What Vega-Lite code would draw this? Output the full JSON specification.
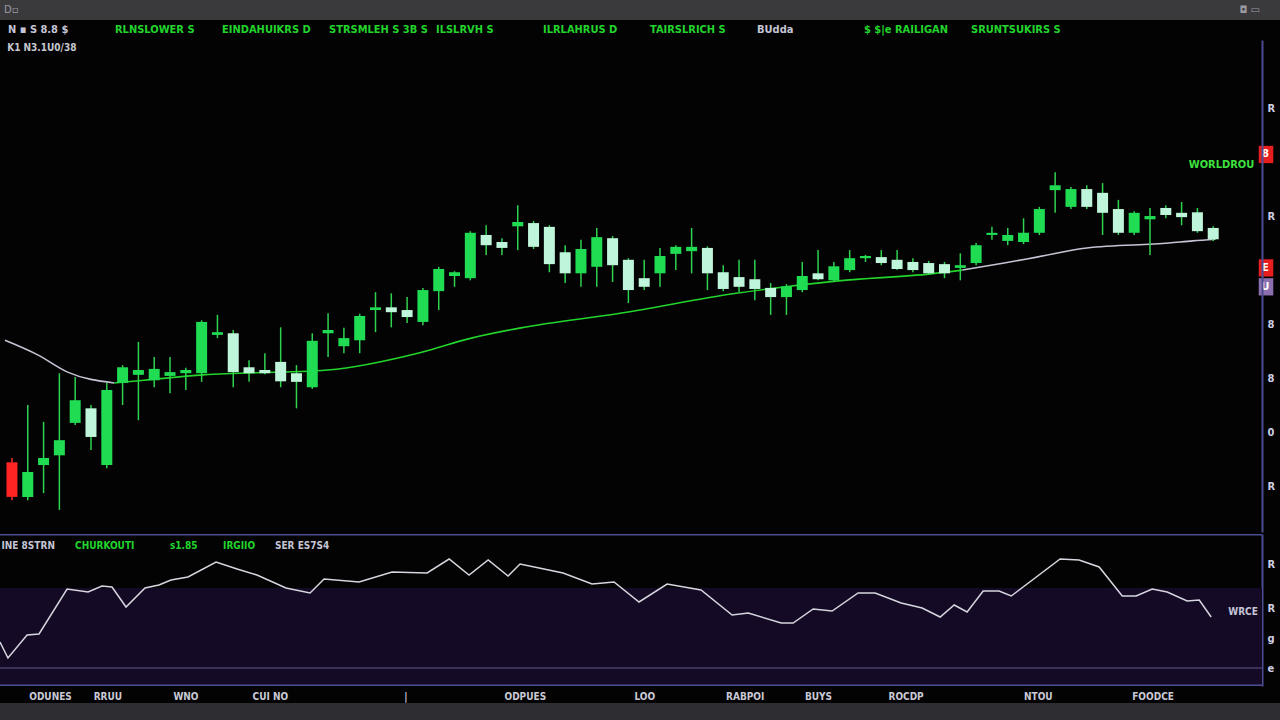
{
  "$schema": "https://vega.github.io/schema/vega-lite/v6.json",
  "background": "#030304",
  "padding": 0,
  "spacing": 2,
  "config": {"view": {"stroke": null}, "axis": {"grid": false, "ticks": false}, "font": "DejaVu Sans"},
  "datasets": {
    "candles": [
      {"t":1,"o":104.4,"h":105.2,"l":97.4,"c":98.0,"dir":"sell"},
      {"t":2,"o":98.0,"h":115.0,"l":97.4,"c":102.6,"dir":"up"},
      {"t":3,"o":103.9,"h":111.9,"l":98.7,"c":105.2,"dir":"up"},
      {"t":4,"o":105.7,"h":120.9,"l":95.6,"c":108.5,"dir":"up"},
      {"t":5,"o":111.7,"h":120.2,"l":111.3,"c":115.9,"dir":"up"},
      {"t":6,"o":114.4,"h":115.0,"l":106.7,"c":109.1,"dir":"down"},
      {"t":7,"o":103.9,"h":119.1,"l":103.3,"c":117.8,"dir":"up"},
      {"t":8,"o":119.1,"h":122.4,"l":115.0,"c":122.0,"dir":"up"},
      {"t":9,"o":120.6,"h":126.7,"l":112.2,"c":121.5,"dir":"up"},
      {"t":10,"o":119.6,"h":123.9,"l":118.3,"c":121.7,"dir":"up"},
      {"t":11,"o":120.4,"h":123.9,"l":117.2,"c":121.1,"dir":"up"},
      {"t":12,"o":120.9,"h":121.9,"l":117.8,"c":121.5,"dir":"up"},
      {"t":13,"o":120.9,"h":130.7,"l":119.3,"c":130.4,"dir":"up"},
      {"t":14,"o":128.0,"h":131.7,"l":127.4,"c":128.5,"dir":"up"},
      {"t":15,"o":128.3,"h":128.9,"l":118.3,"c":121.1,"dir":"down"},
      {"t":16,"o":122.0,"h":123.3,"l":119.3,"c":120.9,"dir":"down"},
      {"t":17,"o":121.5,"h":124.6,"l":120.7,"c":120.9,"dir":"down"},
      {"t":18,"o":123.0,"h":129.4,"l":118.3,"c":119.4,"dir":"down"},
      {"t":19,"o":120.9,"h":122.4,"l":114.4,"c":119.3,"dir":"down"},
      {"t":20,"o":118.3,"h":128.3,"l":118.0,"c":126.9,"dir":"up"},
      {"t":21,"o":128.3,"h":132.0,"l":123.9,"c":128.9,"dir":"up"},
      {"t":22,"o":125.9,"h":129.3,"l":124.6,"c":127.4,"dir":"up"},
      {"t":23,"o":127.0,"h":131.9,"l":124.6,"c":131.5,"dir":"up"},
      {"t":24,"o":132.6,"h":135.9,"l":128.5,"c":133.1,"dir":"up"},
      {"t":25,"o":133.1,"h":135.7,"l":129.4,"c":132.2,"dir":"down"},
      {"t":26,"o":132.6,"h":135.0,"l":130.2,"c":131.3,"dir":"down"},
      {"t":27,"o":130.4,"h":136.7,"l":129.8,"c":136.3,"dir":"up"},
      {"t":28,"o":136.1,"h":140.6,"l":132.6,"c":140.2,"dir":"up"},
      {"t":29,"o":138.9,"h":139.8,"l":136.9,"c":139.6,"dir":"up"},
      {"t":30,"o":138.5,"h":147.2,"l":138.1,"c":146.9,"dir":"up"},
      {"t":31,"o":146.5,"h":148.3,"l":142.8,"c":144.6,"dir":"down"},
      {"t":32,"o":145.2,"h":145.9,"l":142.8,"c":144.1,"dir":"down"},
      {"t":33,"o":148.1,"h":152.0,"l":143.7,"c":148.9,"dir":"up"},
      {"t":34,"o":148.7,"h":149.1,"l":143.9,"c":144.3,"dir":"down"},
      {"t":35,"o":148.0,"h":148.3,"l":139.6,"c":141.1,"dir":"down"},
      {"t":36,"o":143.3,"h":144.6,"l":137.6,"c":139.4,"dir":"down"},
      {"t":37,"o":139.4,"h":145.6,"l":136.9,"c":143.9,"dir":"up"},
      {"t":38,"o":140.6,"h":147.8,"l":136.9,"c":146.1,"dir":"up"},
      {"t":39,"o":145.9,"h":146.3,"l":137.8,"c":140.9,"dir":"down"},
      {"t":40,"o":141.9,"h":142.2,"l":133.9,"c":136.3,"dir":"down"},
      {"t":41,"o":138.5,"h":141.9,"l":136.3,"c":136.9,"dir":"down"},
      {"t":42,"o":139.4,"h":144.1,"l":136.9,"c":142.6,"dir":"up"},
      {"t":43,"o":143.0,"h":144.6,"l":140.0,"c":144.3,"dir":"up"},
      {"t":44,"o":143.5,"h":147.8,"l":139.4,"c":144.3,"dir":"up"},
      {"t":45,"o":144.1,"h":144.4,"l":136.3,"c":139.4,"dir":"down"},
      {"t":46,"o":139.6,"h":140.9,"l":136.1,"c":136.5,"dir":"down"},
      {"t":47,"o":138.7,"h":141.9,"l":135.9,"c":136.9,"dir":"down"},
      {"t":48,"o":138.3,"h":141.9,"l":134.4,"c":136.5,"dir":"down"},
      {"t":49,"o":136.7,"h":137.6,"l":131.7,"c":135.0,"dir":"down"},
      {"t":50,"o":135.0,"h":137.4,"l":131.7,"c":137.0,"dir":"up"},
      {"t":51,"o":136.3,"h":141.5,"l":135.9,"c":138.9,"dir":"up"},
      {"t":52,"o":139.4,"h":143.7,"l":138.1,"c":138.3,"dir":"down"},
      {"t":53,"o":138.1,"h":141.5,"l":137.8,"c":140.7,"dir":"up"},
      {"t":54,"o":140.0,"h":143.7,"l":139.6,"c":142.2,"dir":"up"},
      {"t":55,"o":142.2,"h":142.8,"l":141.5,"c":142.6,"dir":"up"},
      {"t":56,"o":142.4,"h":143.7,"l":140.9,"c":141.3,"dir":"down"},
      {"t":57,"o":141.9,"h":143.7,"l":140.0,"c":140.2,"dir":"down"},
      {"t":58,"o":141.5,"h":142.2,"l":139.6,"c":140.0,"dir":"down"},
      {"t":59,"o":141.3,"h":141.7,"l":139.1,"c":139.4,"dir":"down"},
      {"t":60,"o":141.1,"h":141.5,"l":138.5,"c":139.4,"dir":"down"},
      {"t":61,"o":140.4,"h":143.1,"l":138.1,"c":140.9,"dir":"up"},
      {"t":62,"o":141.3,"h":145.0,"l":140.9,"c":144.6,"dir":"up"},
      {"t":63,"o":146.5,"h":148.0,"l":145.6,"c":146.9,"dir":"up"},
      {"t":64,"o":145.4,"h":147.8,"l":144.6,"c":146.5,"dir":"up"},
      {"t":65,"o":145.2,"h":149.6,"l":144.8,"c":146.9,"dir":"up"},
      {"t":66,"o":146.9,"h":151.7,"l":146.5,"c":151.3,"dir":"up"},
      {"t":67,"o":154.8,"h":158.1,"l":150.6,"c":155.7,"dir":"up"},
      {"t":68,"o":151.7,"h":155.4,"l":151.3,"c":155.0,"dir":"up"},
      {"t":69,"o":155.0,"h":155.7,"l":151.3,"c":151.7,"dir":"down"},
      {"t":70,"o":154.3,"h":156.1,"l":146.5,"c":150.6,"dir":"down"},
      {"t":71,"o":151.3,"h":153.0,"l":146.5,"c":146.9,"dir":"down"},
      {"t":72,"o":146.9,"h":150.9,"l":146.5,"c":150.6,"dir":"up"},
      {"t":73,"o":149.4,"h":151.5,"l":142.8,"c":150.0,"dir":"up"},
      {"t":74,"o":151.5,"h":152.0,"l":149.6,"c":150.2,"dir":"down"},
      {"t":75,"o":150.6,"h":152.6,"l":148.3,"c":149.8,"dir":"down"},
      {"t":76,"o":150.7,"h":151.5,"l":146.9,"c":147.2,"dir":"down"},
      {"t":77,"o":147.8,"h":148.1,"l":145.4,"c":145.7,"dir":"down"}
    ],
    "ma": [
      {"t":0.56,"p":127.0,"seg":"a"},{"t":2.63,"p":124.3,"seg":"a"},{"t":4.52,"p":121.1,"seg":"a"},{"t":7.47,"p":119.1,"seg":"a"},
      {"t":7.47,"p":119.1,"seg":"b"},{"t":9.35,"p":119.6,"seg":"b"},{"t":13.11,"p":120.6,"seg":"b"},{"t":20.96,"p":121.5,"seg":"b"},
      {"t":26.93,"p":124.8,"seg":"b"},{"t":30.06,"p":127.4,"seg":"b"},{"t":33.2,"p":129.3,"seg":"b"},{"t":39.48,"p":132.0,"seg":"b"},
      {"t":46.83,"p":135.7,"seg":"b"},{"t":53.29,"p":138.0,"seg":"b"},{"t":59.13,"p":139.3,"seg":"b"},{"t":61.14,"p":140.0,"seg":"b"},
      {"t":61.14,"p":140.0,"seg":"c"},{"t":63.78,"p":141.3,"seg":"c"},{"t":65.84,"p":142.4,"seg":"c"},{"t":69.0,"p":144.1,"seg":"c"},
      {"t":74.2,"p":145.0,"seg":"c"},{"t":75.7,"p":145.4,"seg":"c"},{"t":77.14,"p":145.7,"seg":"c"}
    ],
    "osc": [
      {"t":0.56,"v":43},{"t":1.06,"v":35},{"t":2.26,"v":46.5},{"t":3.01,"v":47},{"t":4.77,"v":69.5},{"t":6.09,"v":68},
      {"t":6.96,"v":71},{"t":7.59,"v":70.5},{"t":8.47,"v":60.5},{"t":9.66,"v":70},{"t":10.54,"v":71.5},{"t":11.29,"v":74},
      {"t":12.36,"v":75.5},{"t":14.12,"v":83},{"t":15.44,"v":79.5},{"t":16.69,"v":76.5},{"t":18.51,"v":70},{"t":20.02,"v":67.5},
      {"t":20.9,"v":74.5},{"t":23.1,"v":73},{"t":25.17,"v":78},{"t":27.37,"v":77.5},{"t":28.75,"v":84.5},{"t":30.0,"v":76.5},
      {"t":31.2,"v":84},{"t":32.45,"v":76},{"t":33.2,"v":82},{"t":34.4,"v":80},{"t":35.9,"v":77.5},{"t":37.72,"v":72},
      {"t":39.1,"v":73},{"t":40.67,"v":63},{"t":42.43,"v":72},{"t":44.56,"v":69},{"t":46.51,"v":56.5},{"t":47.52,"v":57.5},
      {"t":49.59,"v":52.5},{"t":50.34,"v":52.5},{"t":51.6,"v":59.5},{"t":52.79,"v":58.5},{"t":54.42,"v":67.5},{"t":55.49,"v":67.5},
      {"t":57.12,"v":62.5},{"t":58.44,"v":60},{"t":59.57,"v":55.5},{"t":60.45,"v":61.5},{"t":61.26,"v":58},{"t":62.27,"v":68.5},
      {"t":63.27,"v":68.5},{"t":64.03,"v":66},{"t":67.1,"v":84.5},{"t":68.29,"v":84},{"t":69.55,"v":80.5},{"t":71.0,"v":66},
      {"t":71.87,"v":66},{"t":72.88,"v":69.5},{"t":73.82,"v":68},{"t":75.07,"v":63.5},{"t":75.83,"v":64},{"t":76.58,"v":55.5}
    ],
    "tags": [
      {"p":161.4,"label":"8","kind":"red"},
      {"p":140.4,"label":"E","kind":"red"},
      {"p":136.9,"label":"U","kind":"purple"}
    ],
    "notes": [
      {"t":0.7,"p":181.2,"label":"K1  N3.1U0/38","align":"left","tone":"w"},
      {"t":79.6,"p":159.4,"label":"WORLDROU","align":"right","tone":"g"}
    ],
    "oscnotes": [
      {"t":0.65,"v":91,"label":"INE  8STRN","tone":"w"},
      {"t":5.27,"v":91,"label":"CHURKOUTI","tone":"g"},
      {"t":11.23,"v":91,"label":"s1.85","tone":"g"},
      {"t":14.56,"v":91,"label":"IRGIIO","tone":"r"},
      {"t":17.82,"v":91,"label":"SER ES7S4","tone":"w"},
      {"t":77.65,"v":58,"label":"WRCE","tone":"w"}
    ],
    "header": [
      {"seg":"s0","label":"N  ▪  S  8.8  $","tone":"w"},
      {"seg":"s1","label":"RLNSLOWER  S","tone":"g"},
      {"seg":"s2","label":"EINDAHUIKRS  D","tone":"g"},
      {"seg":"s3","label":"STRSMLEH S 3B  S","tone":"g"},
      {"seg":"s4","label":"ILSLRVH  S","tone":"g"},
      {"seg":"s5","label":"ILRLAHRUS  D","tone":"g"},
      {"seg":"s6","label":"TAIRSLRICH  S","tone":"g"},
      {"seg":"s7","label":"BUdda","tone":"w"},
      {"seg":"s8","label":"$  $|e  RAILIGAN","tone":"g"},
      {"seg":"s9","label":"SRUNTSUKIRS  S","tone":"g"}
    ],
    "borders": [{"v": 97}, {"v": 21}]
  },
  "vconcat": [
    {
      "width": 1280, "height": 20,
      "view": {"fill": "#3a3a3d"},
      "data": {"values": [{"slot":"left","label":"D▫"},{"slot":"right","label":"◘ ▭"}]},
      "layer": [
        {
          "transform": [{"filter": "datum.slot === 'left'"}],
          "mark": {"type":"text","align":"left","dx":4,"fontSize":10,"color":"#9a9aa2"},
          "encoding": {"x": {"field":"slot","type":"nominal","scale":{"type":"point","domain":["left","right"],"padding":0},"axis":null},"text":{"field":"label"}}
        },
        {
          "transform": [{"filter": "datum.slot === 'right'"}],
          "mark": {"type":"text","align":"right","dx":-20,"fontSize":10,"color":"#9a9aa2"},
          "encoding": {"x": {"field":"slot","type":"nominal","scale":{"type":"point","domain":["left","right"],"padding":0},"axis":null},"text":{"field":"label"}}
        }
      ]
    },
    {
      "width": 1070, "height": 16,
      "data": {"name": "header"},
      "mark": {"type":"text","align":"left","dx":8,"fontSize":11,"fontWeight":"bold","font":"DejaVu Sans Condensed"},
      "encoding": {
        "x": {"field":"seg","type":"ordinal","bandPosition":0,"scale":{"type":"band","paddingInner":0,"paddingOuter":0},"axis":null},
        "text": {"field":"label"},
        "color": {"field":"tone","type":"nominal","scale":{"domain":["w","g"],"range":["#c4c4d4","#22d42c"]},"legend":null}
      }
    },
    {
      "width": 1262, "height": 492,
      "layer": [
        {
          "data": {"name": "ma"},
          "mark": {"type":"line","strokeWidth":1.6,"interpolate":"monotone","clip":true},
          "encoding": {
            "x": {"field":"t","type":"quantitative","scale":{"domain":[0.56,79.77],"nice":false,"zero":false},"axis":null},
            "y": {"field":"p","type":"quantitative","scale":{"domain":[91.5,182.6],"nice":false,"zero":false},
                  "axis":{"orient":"right","title":null,"values":[100,110,120,130,150,170],
                          "labelExpr":"['R','0','8','8','R','R'][indexof([100,110,120,130,150,170], datum.value)]",
                          "labelColor":"#cfd0e6","labelFontSize":11,"labelFont":"DejaVu Sans Condensed","labelFontWeight":"bold",
                          "labelPadding":5,"domainColor":"#4c4c90","domainWidth":2,"zindex":1}},
            "color": {"field":"seg","type":"nominal","scale":{"domain":["a","b","c"],"range":["#b8b8b8","#2fae2f","#d0d0d0"]},"legend":null},
            "detail": {"field":"seg"}
          }
        },
        {
          "data": {"name": "candles"},
          "mark": {"type":"rule","strokeWidth":1.5,"clip":true},
          "encoding": {
            "x": {"field":"t","type":"quantitative"},
            "y": {"field":"l","type":"quantitative"},
            "y2": {"field":"h"},
            "color": {"condition": {"test":"datum.dir === 'sell'","value":"#ff2a2a"},"value":"#2fd24e"}
          }
        },
        {
          "data": {"name": "candles"},
          "mark": {"type":"bar","width":11},
          "encoding": {
            "x": {"field":"t","type":"quantitative"},
            "y": {"field":"o","type":"quantitative"},
            "y2": {"field":"c"},
            "color": {"condition": [{"test":"datum.dir === 'sell'","value":"#ff2424"},{"test":"datum.dir === 'up'","value":"#20dc52"}],"value":"#bff5da"}
          }
        },
        {
          "data": {"name": "notes"},
          "transform": [{"filter": "datum.align === 'left'"}],
          "mark": {"type":"text","align":"left","fontSize":10,"font":"DejaVu Sans Condensed","fontWeight":"bold","color":"#c8c8d0"},
          "encoding": {"x": {"field":"t","type":"quantitative"},"y": {"field":"p","type":"quantitative"},"text": {"field":"label"}}
        },
        {
          "data": {"name": "notes"},
          "transform": [{"filter": "datum.align === 'right'"}],
          "mark": {"type":"text","align":"right","fontSize":11,"font":"DejaVu Sans Condensed","fontWeight":"bold","color":"#3ee03e"},
          "encoding": {"x": {"field":"t","type":"quantitative"},"y": {"field":"p","type":"quantitative"},"text": {"field":"label"}}
        },
        {
          "data": {"name": "tags"},
          "transform": [{"calculate":"datum.p - 1.6","as":"lo"},{"calculate":"datum.p + 1.6","as":"hi"}],
          "mark": {"type":"rect"},
          "encoding": {
            "x": {"datum": 79.88, "type":"quantitative"},
            "x2": {"datum": 80.8},
            "y": {"field":"lo","type":"quantitative"},
            "y2": {"field":"hi"},
            "color": {"condition": {"test":"datum.kind === 'red'","value":"#e81d1d"},"value":"#8c6fae"}
          }
        },
        {
          "data": {"name": "tags"},
          "mark": {"type":"text","fontSize":10,"fontWeight":"bold","color":"#ffffff"},
          "encoding": {
            "x": {"datum": 80.3, "type":"quantitative"},
            "y": {"field":"p","type":"quantitative"},
            "text": {"field":"label"}
          }
        }
      ]
    },
    {
      "width": 1262, "height": 152,
      "layer": [
        {
          "data": {"values": [{}]},
          "mark": {"type":"rect","color":"#150a26"},
          "encoding": {
            "x": {"datum": 0.56, "type":"quantitative"},
            "x2": {"datum": 79.77},
            "y": {"datum": 70, "type":"quantitative"},
            "y2": {"datum": 21}
          }
        },
        {
          "data": {"values": [{}]},
          "mark": {"type":"rule","color":"#4a3f6a","strokeWidth":1.5,"clip":true},
          "encoding": {"y": {"datum": 30, "type":"quantitative"}}
        },
        {
          "data": {"name": "borders"},
          "mark": {"type":"rule","color":"#4d4d94","strokeWidth":3,"clip":true},
          "encoding": {"y": {"field": "v", "type":"quantitative"}}
        },
        {
          "data": {"name": "osc"},
          "mark": {"type":"line","strokeWidth":1.5,"color":"#d6d6de","clip":true},
          "encoding": {
            "x": {"field":"t","type":"quantitative","scale":{"domain":[0.56,79.77],"nice":false,"zero":false},
                  "axis":{"orient":"bottom","title":null,"domain":false,
                          "values":[3.7,7.3,12.2,17.5,26,33.5,41,47.3,51.9,57.4,65.7,72.9],
                          "labelExpr":"['ODUNES','RRUU','WNO','CUI NO','|','ODPUES','LOO','RABPOI','BUYS','ROCDP','NTOU','FOODCE'][indexof([3.7,7.3,12.2,17.5,26,33.5,41,47.3,51.9,57.4,65.7,72.9], datum.value)]",
                          "labelColor":"#c9c9d6","labelFontSize":10,"labelFont":"DejaVu Sans Condensed","labelFontWeight":"bold","labelPadding":5}},
            "y": {"field":"v","type":"quantitative","scale":{"domain":[21,97],"nice":false,"zero":false},
                  "axis":{"orient":"right","title":null,"values":[82,60,45,30],
                          "labelExpr":"['R','R','g','e'][indexof([82,60,45,30], datum.value)]",
                          "labelColor":"#cfd0e6","labelFontSize":11,"labelFont":"DejaVu Sans Condensed","labelFontWeight":"bold",
                          "labelPadding":5,"domainColor":"#4c4c90","domainWidth":2}}
          }
        },
        {
          "data": {"name": "oscnotes"},
          "mark": {"type":"text","align":"left","fontSize":10,"font":"DejaVu Sans Condensed","fontWeight":"bold"},
          "encoding": {
            "x": {"field":"t","type":"quantitative"},
            "y": {"field":"v","type":"quantitative"},
            "text": {"field":"label"},
            "color": {"field":"tone","type":"nominal","scale":{"domain":["w","g","r"],"range":["#c8c8d2","#2fbf3a","#e0283a"]},"legend":null}
          }
        }
      ]
    },
    {
      "width": 1280, "height": 18,
      "view": {"fill": "#2e2e32"},
      "data": {"values": [{"label": ""}]},
      "mark": {"type":"text"},
      "encoding": {"text": {"field":"label"}}
    }
  ]
}
